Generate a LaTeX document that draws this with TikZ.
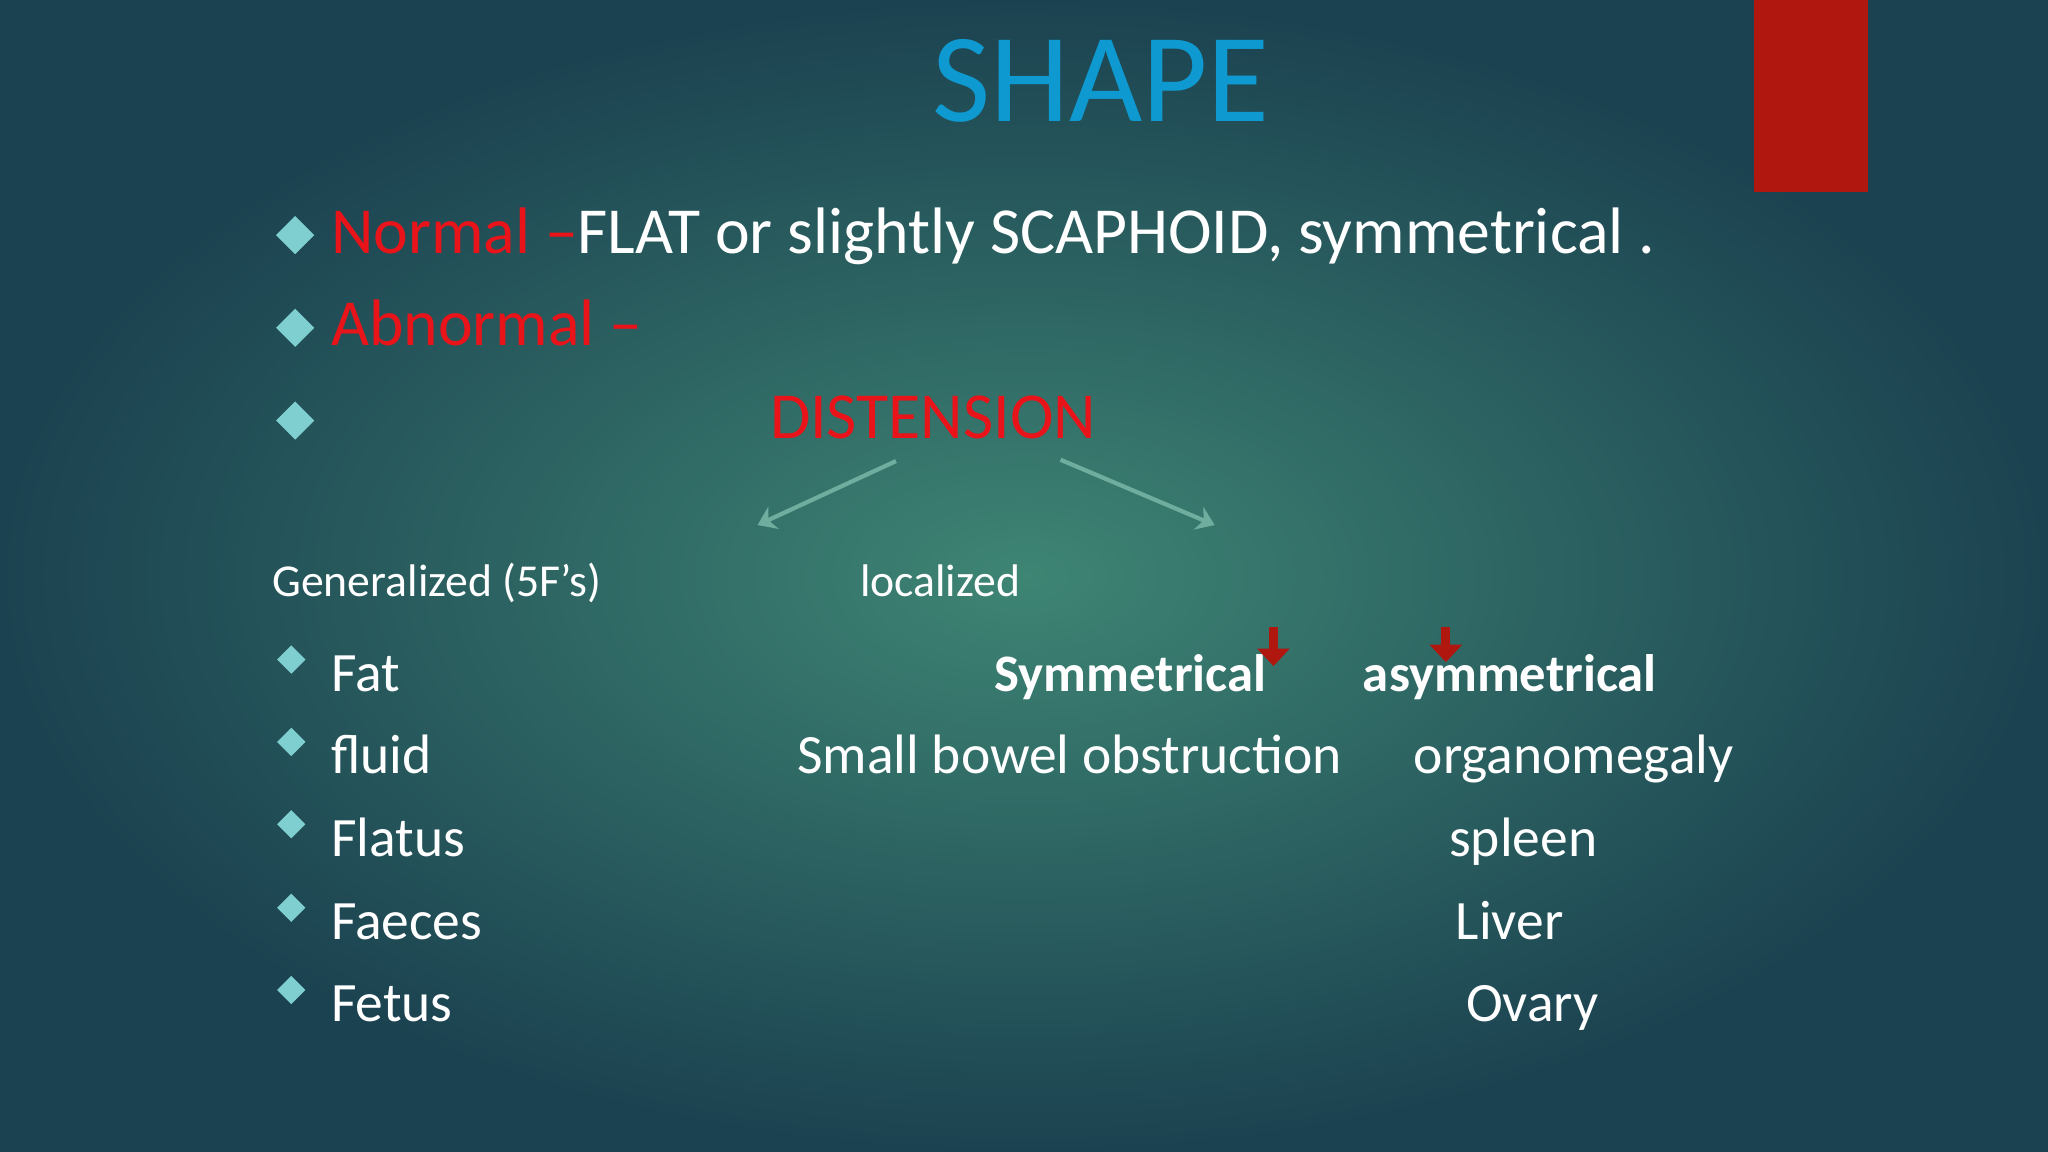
\documentclass[tikz,border=0pt]{standalone}
\usepackage{fontspec}
\setmainfont{Carlito}
\usetikzlibrary{arrows.meta}
\definecolor{bgin}{HTML}{3E8574}
\definecolor{bgout}{HTML}{1B4250}
\definecolor{dia}{HTML}{7FCFD0}
\definecolor{rd}{HTML}{E8141A}
\definecolor{bar}{HTML}{B0170F}
\definecolor{ttl}{HTML}{0E9AD0}
\definecolor{arr}{HTML}{6FAE9E}
\tikzset{
 txt/.style={text=white,anchor=mid west,inner sep=0pt},
 big/.style={font=\fontsize{18.7}{20}\selectfont},
 mid/.style={font=\fontsize{15.8}{18}\selectfont},
 sml/.style={font=\fontsize{13}{15}\selectfont},
 bigdia/.style={fill=dia,rotate=45,minimum size=0.27cm,inner sep=0pt},
 smldia/.style={fill=dia,rotate=45,minimum size=0.2cm,inner sep=0pt},
 link/.style={draw=arr,line width=1.2pt,-{Stealth[length=5pt,width=7pt]}},
 redarr/.style={draw=bar,line width=2.5pt,-{Triangle[length=5pt,width=9pt]}}
}
\begin{document}
\begin{tikzpicture}[x=0.013061cm,y=-0.013061cm]
\useasboundingbox (0,0) rectangle (1568,882);
\shade[inner color=bgin,outer color=bgout] (0,0) rectangle (1568,882);
\fill[bar] (1343,0) rectangle (1430,147);
\node[text=ttl,font=\fontsize{36}{40}\selectfont,inner sep=0pt] (title) at (843,62) {SHAPE};
\node[bigdia] (d1) at (226,180) {};
\node[bigdia] (d2) at (226,251) {};
\node[bigdia] (d3) at (226,322) {};
\node[txt,big] (normal) at (253,188) {\textcolor{rd}{Normal –}FLAT or slightly SCAPHOID, symmetrical .};
\node[txt,big,text=rd] (abn) at (253,258) {Abnormal –};
\node[txt,big,text=rd] (dist) at (589,329) {DISTENSION};
\coordinate (a1s) at (686,353); \coordinate (a1e) at (580,402);
\coordinate (a2s) at (812,352); \coordinate (a2e) at (930,402);
\draw[link] (a1s) -- (a1e);
\draw[link] (a2s) -- (a2e);
\node[txt,sml] (gen) at (208,450) {Generalized (5F’s)};
\node[txt,sml] (loc) at (658,450) {localized};
\foreach \y/\t [count=\i] in {515/Fat,578/fluid,641/Flatus,705/Faeces,768/Fetus}{
  \node[smldia] (sd\i) at (223,\y-10) {};
  \node[txt,mid] (f\i) at (253,\y+8) {\t};
}
\node[txt,font=\bfseries\fontsize{15}{17}\selectfont] (sym) at (761,523) {Symmetrical};
\node[txt,font=\bfseries\fontsize{15}{17}\selectfont] (asym) at (1043,523) {asymmetrical};
\coordinate (r1s) at (975,480); \coordinate (r1e) at (975,510);
\coordinate (r2s) at (1107,480); \coordinate (r2e) at (1107,507);
\draw[redarr] (r1s) -- (r1e);
\draw[redarr] (r2s) -- (r2e);
\node[txt,mid] (sbo) at (610,586) {Small bowel obstruction};
\node[txt,mid] (org) at (1082,586) {organomegaly};
\node[txt,mid] (spl) at (1109,649) {spleen};
\node[txt,mid] (liv) at (1114,713) {Liver};
\node[txt,mid] (ova) at (1122,776) {Ovary};
\end{tikzpicture}
\end{document}
